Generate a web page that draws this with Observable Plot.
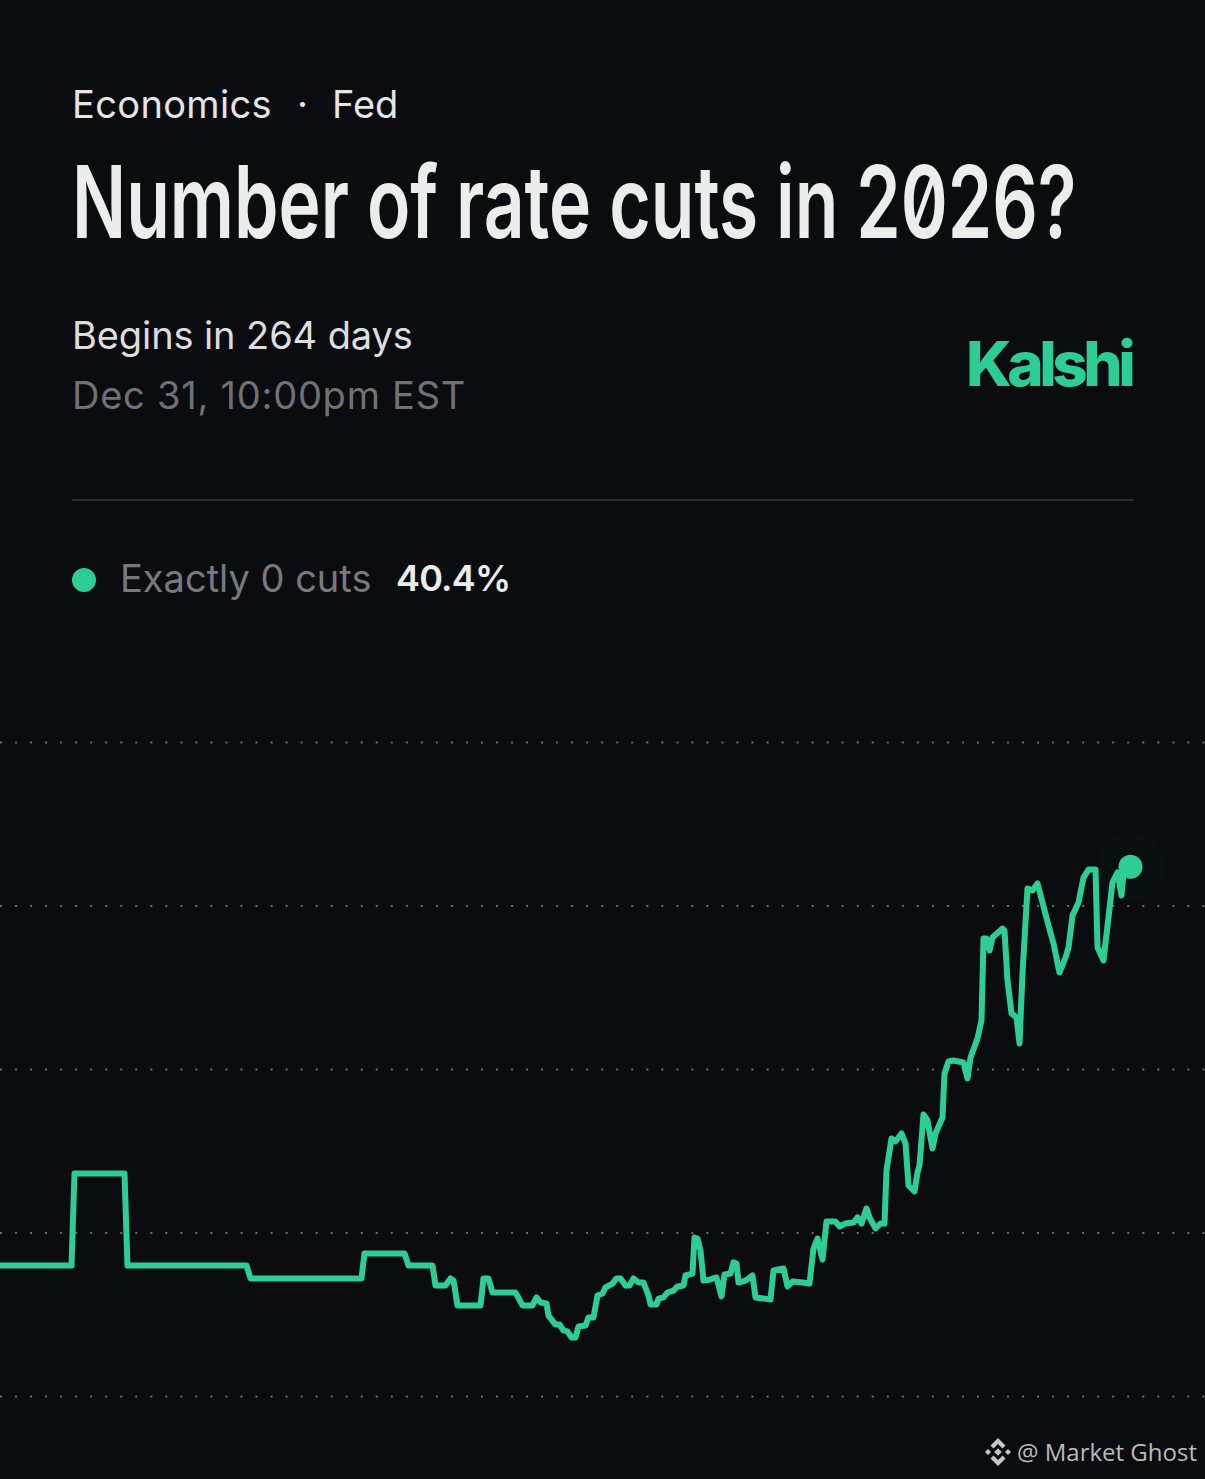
<!DOCTYPE html>
<html><head><meta charset="utf-8">
<script src="https://cdn.jsdelivr.net/npm/d3@7"></script>
<script src="https://cdn.jsdelivr.net/npm/@observablehq/plot@0.6"></script>
<style>
html,body{margin:0;padding:0;background:#0a0c10;}
#page{position:relative;width:1205px;height:1479px;overflow:hidden;background:#0a0c10;font-family:Inter,sans-serif;}
.t{position:absolute;white-space:pre;line-height:1;transform-origin:0 50%;}
#chart{position:absolute;left:0;top:660px;}
#chart svg{display:block;background:transparent;}
</style></head><body>
<div id="page">
<div class="t" style="left:72px;top:85px;font-size:38px;letter-spacing:.35px;color:#e4e5e6;">Economics</div>
<div class="t" style="left:297px;top:85px;font-size:38px;color:#e4e5e6;">·</div>
<div class="t" style="left:332px;top:85px;font-size:38px;color:#e4e5e6;">Fed</div>
<div class="t" id="title" style="left:72px;top:152px;font-size:100px;font-weight:600;color:#ececec;font-feature-settings:'zero' 1;transform:scaleX(.713);">Number of rate cuts in 2026?</div>
<div class="t" style="left:72px;top:316px;font-size:38px;letter-spacing:-.1px;color:#dcdddf;">Begins in 264 days</div>
<div class="t" style="left:72px;top:376px;font-size:38px;letter-spacing:.75px;color:#6f7174;">Dec 31, 10:00pm EST</div>
<div class="t" style="left:966px;top:333px;font-size:62px;font-weight:800;letter-spacing:-4.5px;color:#2fcd96;">Kalshi</div>
<div style="position:absolute;left:72px;top:499px;width:1062px;height:2px;background:#2a2c30;"></div>
<div style="position:absolute;left:72px;top:568px;width:24px;height:24px;border-radius:50%;background:#2fcd96;"></div>
<div class="t" style="left:120px;top:559px;font-size:38px;color:#77797c;">Exactly 0 cuts</div>
<div class="t" style="left:396px;top:560px;font-size:36px;font-weight:600;letter-spacing:-.8px;color:#ececec;">40.4%</div>
<div id="chart"></div>
<svg style="position:absolute;left:984px;top:1438px;" width="28" height="28" viewBox="0 0 28 28" fill="#c4c5c6">
<path d="M14 0l7.500 7.500-3 3L14 6l-4.500 4.500-3-3z"/><path d="M14 28l7.500-7.500-3-3L14 22l-4.500-4.500-3 3z"/>
<path d="M14 10.200L17.800 14 14 17.800 10.200 14z"/><path d="M4 11L7 14l-3 3-3-3z"/><path d="M24 11l3 3-3 3-3-3z"/></svg>
<div class="t" style="left:1017px;top:1440px;font-family:'Open Sans',sans-serif;font-size:24px;color:#b9babb;">@ Market Ghost</div>
</div>
<script>
const step = [0,71,74,124,127,246,250,361,364,404,408,432,435,445,450,453,457,480,483,488,492,515,522,532,536,540,546,548,555,559,563,567,571,575,578,585,588,593,597,602,605,612,616,620,625,629,633,638,643,648,650,656,658,663,667,673,677,683,685,692,694,697,700,703,710,716,721,724,730,733,736,738,745,752,755,770,773,783,787,792,802,809,813,817,822,826,835,839,845,853,857,861,866,869,875,880,884,886,891,895,901,905,908,914,917,919,923,927,932,935,942,944,948,953,963,967,970,977,981,983,986,989,992,1002,1004,1007,1011,1016,1019,1022,1027,1032,1037,1042,1048,1053,1059,1065,1068,1072,1078,1083,1088,1095,1097,1103,1108,1112,1117,1121,1123,1130];
const pct = [16.01,16.01,21.64,21.64,16.01,16.01,15.22,15.22,16.75,16.75,16.01,16.01,14.79,14.79,15.22,15.09,13.57,13.57,15.22,15.22,14.36,14.36,13.57,13.57,14.06,13.75,13.69,12.95,12.40,12.40,12.04,11.98,11.61,11.61,12.28,12.34,12.83,12.83,14.18,14.30,14.67,14.91,15.22,15.22,14.79,14.79,15.22,14.97,14.97,14.18,13.63,13.63,13.99,14.06,14.36,14.48,14.73,14.79,15.40,15.52,17.72,17.66,16.93,15.09,15.16,15.28,14.12,15.46,15.52,16.20,16.13,14.97,15.09,15.40,14.06,13.93,15.71,15.83,14.73,15.03,14.97,14.91,17.05,17.66,16.38,18.70,18.70,18.40,18.58,18.64,18.95,18.58,19.50,18.95,18.28,18.58,18.58,21.82,23.78,23.60,24.09,23.47,20.91,20.54,21.70,22.13,25.25,24.88,23.17,24.09,25.06,27.76,28.49,28.55,28.43,27.45,28.73,29.90,31.00,36.01,36.01,35.28,36.07,36.62,36.50,33.44,31.43,31.18,29.59,33.87,39.07,38.95,39.38,38.21,36.81,35.71,33.93,34.85,35.46,37.42,38.21,39.74,40.23,40.23,35.46,34.67,37.30,39.44,40.05,38.64,39.99,40.40];
const gridLevels = [8,18,28,38,48];
const green = "#2fcd96";

const rows = step.map((s,i)=>({s,v:pct[i]}));
const last = rows[rows.length-1];
const plot = Plot.plot({
  width:1205,height:819,marginTop:82,marginBottom:83,marginLeft:0,marginRight:0,
  style:{background:"transparent"},
  x:{domain:[0,1205],axis:null},
  y:{domain:[8,48],axis:null},
  marks:[
    Plot.ruleY(gridLevels,{stroke:"#6a6c6f",strokeWidth:2,strokeDasharray:"2 13.03"}),
    Plot.dot([last],{x:"s",y:"v",r:34,fill:green,fillOpacity:0.018}),
    Plot.line(rows,{x:"s",y:"v",stroke:green,strokeWidth:6,strokeLinejoin:"round",strokeLinecap:"round"}),
    Plot.dot([last],{x:"s",y:"v",r:12,fill:green})
  ]
});
document.getElementById("chart").appendChild(plot);
</script>
</body></html>
